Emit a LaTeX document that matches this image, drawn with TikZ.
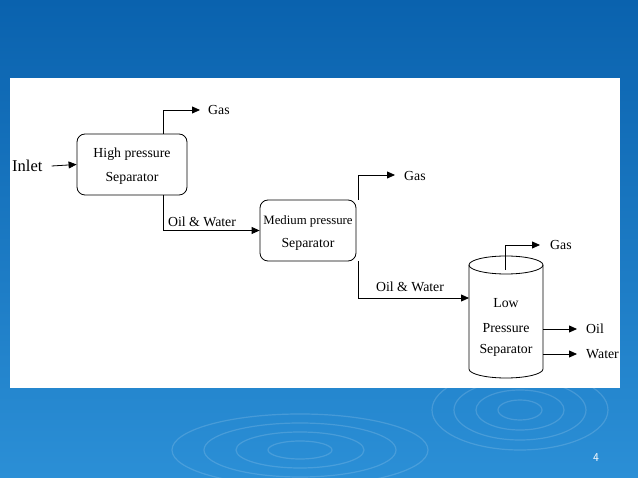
\documentclass[tikz,border=0pt]{standalone}
\usepackage{fontspec}
\setmainfont{Liberation Serif}
\usetikzlibrary{arrows.meta,shapes.geometric}
\definecolor{bgtop}{HTML}{0A62AE}
\definecolor{bgbot}{HTML}{2B8FD6}
\begin{document}
\begin{tikzpicture}[x=1pt,y=-1pt,
  box/.style={draw,rounded corners=8pt,line width=0.8pt,fill=white},
  lbl/.style={font=\fontsize{13.8}{16}\selectfont,inner sep=0pt},
  flow/.style={line width=0.8pt,-{Triangle[length=8pt,width=7pt]}}]
\useasboundingbox (0,0) rectangle (638,478);
\shade[top color=bgtop,bottom color=bgbot] (0,0) rectangle (638,478);
\foreach \r in {20,40,60,80}{
  \draw[white,opacity=0.15,line width=1.2pt] (300,450) ellipse ({\r*1.6} and {\r*0.45});
  \draw[white,opacity=0.15,line width=1.2pt] (520,410) ellipse ({\r*1.1} and {\r*0.5});
}
\fill[white] (10,78) rectangle (620,388);
\node[box,minimum width=110pt,minimum height=61pt] (hp) at (132,164.5) {};
\node[lbl] at (132,154) {High pressure};
\node[lbl] at (132,178) {Separator};
\node[lbl,font=\fontsize{16.5}{18}\selectfont,anchor=west] (inlet) at (12,166) {Inlet};
\draw[flow] ([xshift=9pt]inlet.east) -- (hp.west);
\coordinate (g1) at (200,110);
\node[lbl,anchor=west] at (208,110) {Gas};
\draw[flow] (163,134) |- (g1);
\node[box,minimum width=96pt,minimum height=61pt] (mp) at (308,230.5) {};
\node[lbl,font=\fontsize{12.8}{15}\selectfont] at (308,221) {Medium pressure};
\node[lbl] at (308,244) {Separator};
\draw[flow] (163,195) |- (mp.west);
\node[lbl] at (202,222) {Oil \& Water};
\coordinate (g2) at (395,175);
\node[lbl,anchor=west] at (404,176) {Gas};
\draw[flow] (358,200) |- (g2);
% cylinder
\coordinate (cyl) at (469,298);
\draw[line width=0.8pt,fill=white] (469,265) -- (469,369) arc[start angle=180,end angle=0,x radius=37,y radius=9] -- (543,265);
\draw[line width=0.8pt] (506,265) ellipse (37 and 9);
\node[lbl] at (506,303) {Low};
\node[lbl] at (506,328) {Pressure};
\node[lbl] at (506,350) {Separator};
\draw[flow] (358,261) |- (cyl);
\node[lbl] at (410,287) {Oil \& Water};
\coordinate (g3) at (540,245);
\node[lbl,anchor=west] at (550,245) {Gas};
\draw[flow] (505,270) |- (g3);
\coordinate (oo) at (577,329);
\coordinate (ww) at (577,354);
\draw[flow] (543,329) -- (oo);
\draw[flow] (543,354) -- (ww);
\node[lbl,anchor=west] at (586,329) {Oil};
\node[lbl,anchor=west] at (586,354) {Water};
\node[lbl,white,font=\fontsize{12}{13}\sffamily] at (596,458) {4};
\end{tikzpicture}
\end{document}
